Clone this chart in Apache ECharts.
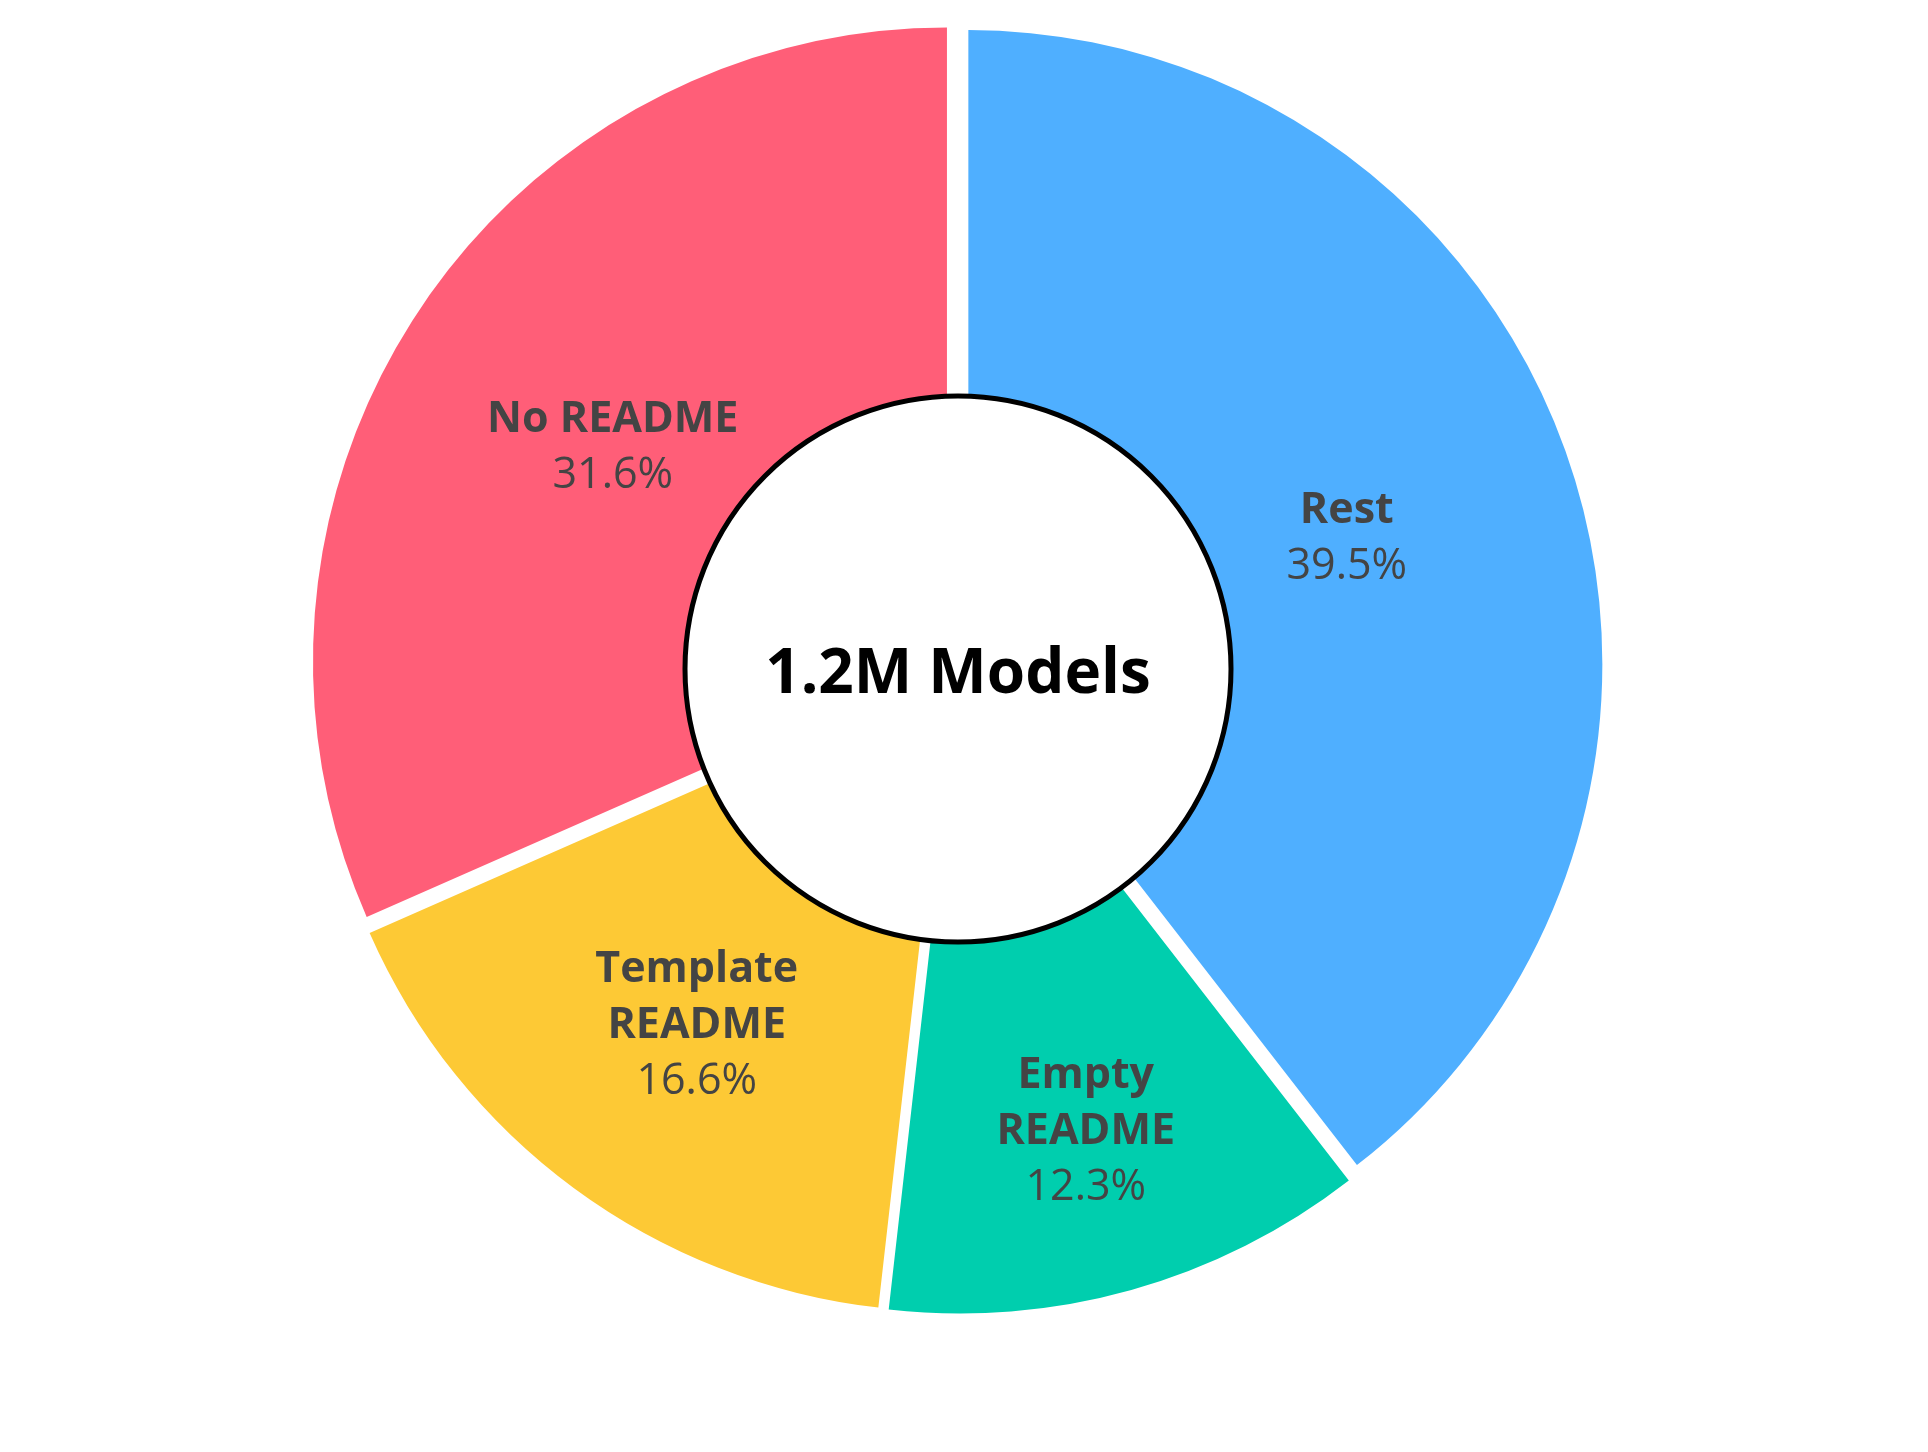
<!DOCTYPE html>
<html><head><meta charset="utf-8">
<script src="https://cdn.jsdelivr.net/npm/echarts@6/dist/echarts.min.js"></script>
<style>html,body{margin:0;padding:0;background:#fff}#chart{width:1928px;height:1452px}</style>
</head><body><div id="chart"></div>
<script>
// ---- data ----
const categories = ['Rest', 'Empty\nREADME', 'Template\nREADME', 'No README'];
const shares = [39.5, 12.3, 16.6, 31.6];
const centerLabel = '1.2M Models';

// ---- style ----
const colors = ['#4FAFFF', '#00CEAE', '#FDC935', '#FF5E78'];
const labelRadius = [397, 462, 424, 396]; // distance of each label centre from its slice centre
const CX = 957, CY = 668, R = 634, HOLE = 273, PULL = 12;
const FONT = '"Open Sans", "DejaVu Sans", sans-serif';

const labelStyle = {
  position: 'inside',
  padding: [8, 0, 0, 0],
  formatter: function (p) { return '{n|' + p.name + '}\n{p|' + p.value.toFixed(1) + '%}'; },
  rich: {
    n: {fontFamily: FONT, fontWeight: 700, fontSize: 43, color: '#444444', lineHeight: 56, align: 'center'},
    p: {fontFamily: FONT, fontWeight: 400, fontSize: 43, color: '#444444', lineHeight: 56, align: 'center'}
  }
};

function baseSeries(radius, z) {
  return {
    type: 'pie',
    center: [CX, CY],
    radius: radius,
    startAngle: 90,
    clockwise: true,
    selectedMode: 'multiple',
    selectedOffset: PULL,
    avoidLabelOverlap: false,
    silent: true,
    z: z,
    emphasis: {disabled: true},
    select: {itemStyle: {borderWidth: 0}},
    labelLine: {show: false}
  };
}

// slices
const sliceSeries = Object.assign(baseSeries([150, R], 2), {
  itemStyle: {borderWidth: 0},
  label: {show: false},
  data: categories.map(function (n, i) {
    return {name: n, value: shares[i], selected: true, itemStyle: {color: colors[i]}};
  })
});

// one transparent ring per label, so each label sits at its own radius
const labelSeries = categories.map(function (name, i) {
  return Object.assign(baseSeries([labelRadius[i] - 1, labelRadius[i] + 1], 3), {
    itemStyle: {color: 'rgba(0,0,0,0)', borderWidth: 0},
    label: Object.assign({show: false}, labelStyle),
    data: categories.map(function (n, j) {
      return {name: n, value: shares[j], selected: true, label: {show: j === i}};
    })
  });
});

// white centre disc
const holeSeries = {
  type: 'pie',
  center: [CX + 1, CY + 1],
  radius: [0, HOLE],
  silent: true,
  z: 5,
  emphasis: {disabled: true},
  itemStyle: {color: '#ffffff', borderColor: '#000000', borderWidth: 5},
  labelLine: {show: false},
  label: {show: false},
  data: [{name: centerLabel, value: 1}]
};

// caption in the disc
const captionSeries = {
  type: 'pie',
  center: [CX + 1, CY + 7],
  radius: [0, 1],
  silent: true,
  z: 6,
  emphasis: {disabled: true},
  itemStyle: {color: 'rgba(0,0,0,0)', borderWidth: 0},
  labelLine: {show: false},
  label: {
    show: true,
    position: 'center',
    formatter: centerLabel,
    fontFamily: FONT,
    fontWeight: 700,
    fontSize: 62,
    color: '#000000'
  },
  data: [{name: centerLabel, value: 1}]
};

const chart = echarts.init(document.getElementById('chart'), null, {renderer: 'canvas'});
chart.setOption({
  animation: false,
  backgroundColor: '#ffffff',
  series: [sliceSeries].concat(labelSeries, [holeSeries, captionSeries])
});
</script>
</body></html>
